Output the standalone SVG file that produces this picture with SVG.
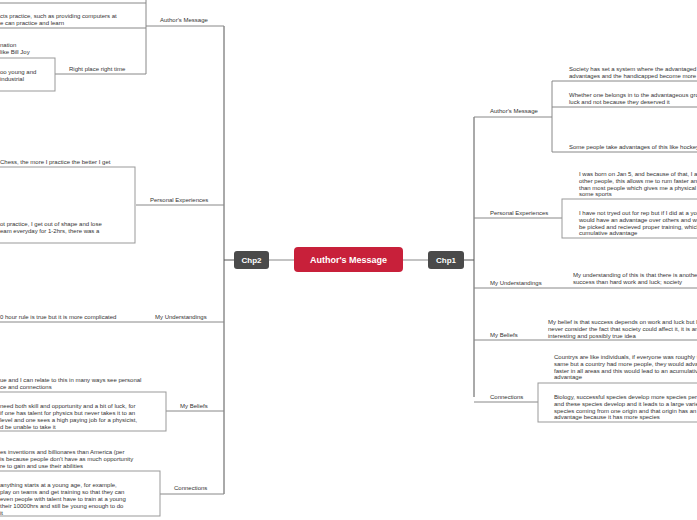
<svg xmlns="http://www.w3.org/2000/svg" width="697" height="520" viewBox="0 0 697 520">
<style>
text{font-family:"Liberation Sans",Arial,sans-serif;font-size:6px;fill:#333}
.l{stroke:#888;stroke-width:1;fill:none}
.d{stroke:#555;stroke-width:1;fill:none}
.b{fill:#fff;stroke:#999;stroke-width:1}
.c{font-size:8px;font-weight:bold;fill:#fff;text-anchor:middle}
</style>
<rect width="697" height="520" fill="#fff"/>
<g id="connectors">
<path class="d" d="M224 26V494M224 260H234M474 117V397M464 260H474"/>
<path class="l" d="M269 260H294M403 260H428"/>
<path class="l" d="M146 26H224M136 205H224M0 322H224M166 411H224M160 494H224"/>
<path class="l" d="M146 0V74M0 3H146M0 28H146M55 74H146"/>
<path class="l" d="M474 117H552M552 81V152M552 81H697M552 107H697M552 152H697"/>
<path class="l" d="M474 218H562M474 288H697M474 340H697M474 402H538"/>
</g>
<g id="root"><rect x="294" y="247" width="109" height="25" rx="4" fill="#c8203a"/><text class="c" x="348.5" y="263" style="font-size:9px">Author's Message</text></g>
<g id="chp2"><rect x="234" y="251" width="35" height="18" rx="3" fill="#4a4a4a"/><text class="c" x="251.5" y="263">Chp2</text></g>
<g id="chp1"><rect x="428" y="251" width="36" height="18" rx="3" fill="#4a4a4a"/><text class="c" x="446" y="263">Chp1</text></g>
<g id="l-author">
<text x="160" y="22">Author's Message</text>
<text x="0" y="18">cts practice, such as providing computers at</text>
<text x="0" y="25">e can practice and learn</text>
<text x="69" y="71">Right place right time</text>
<text x="0" y="47">nation</text><text x="0" y="54">like Bill Joy</text>
<rect class="b" x="-5" y="58" width="60" height="33"/>
<text x="0" y="74">oo young and</text><text x="0" y="81">industrial</text>
</g>
<g id="l-personal">
<text x="150" y="202">Personal Experiences</text>
<text x="0" y="164">Chess, the more I practice the better I get</text>
<rect class="b" x="-5" y="167" width="140" height="76"/>
<text x="0" y="226">ot practice, I get out of shape and lose</text>
<text x="0" y="233">eam everyday for 1-2hrs, there was a</text>
</g>
<g id="l-under">
<text x="155" y="319">My Understandings</text>
<text x="0" y="319">0 hour rule is true but it is more complicated</text>
</g>
<g id="l-beliefs">
<text x="180" y="408">My Beliefs</text>
<text x="0" y="382">ue and I can relate to this in many ways see personal</text>
<text x="0" y="389">ce and connections</text>
<rect class="b" x="-5" y="392" width="171" height="39"/>
<text x="0" y="408">need both skill and opportunity and a bit of luck, for</text>
<text x="0" y="415">if one has talent for physics but never takes it to an</text>
<text x="0" y="422">level and one sees a high paying job for a physicist,</text>
<text x="0" y="429">d be unable to take it</text>
</g>
<g id="l-conn">
<text x="174" y="490">Connections</text>
<text x="0" y="454">es inventions and billionares than America (per</text>
<text x="0" y="461">is because people don't have as much opportunity</text>
<text x="0" y="468">re to gain and use their abilities</text>
<rect class="b" x="-5" y="471" width="165" height="45"/>
<text x="0" y="487">anything starts at a young age, for example,</text>
<text x="0" y="494">play on teams and get training so that they can</text>
<text x="0" y="501">even people with talent have to train at a young</text>
<text x="0" y="508">their 10000hrs and still be young enough to do</text>
<text x="0" y="515">it</text>
</g>
<g id="r-author">
<text x="490" y="113">Author's Message</text>
<text x="569" y="71">Society has set a system where the advantaged get more</text>
<text x="569" y="78">advantages and the handicapped become more handicapped</text>
<text x="569" y="97">Whether one belongs in to the advantageous group is just</text>
<text x="569" y="104">luck and not because they deserved it</text>
<text x="569" y="149">Some people take advantages of this like hockey players</text>
</g>
<g id="r-personal">
<text x="490" y="215">Personal Experiences</text>
<text x="579" y="176">I was born on Jan 5, and because of that, I am older than</text>
<text x="579" y="183">other people, this allows me to rum faster and be stronger</text>
<text x="579" y="190">than most people which gives me a physical advantage in</text>
<text x="579" y="196">some sports</text>
<rect class="b" x="562" y="199" width="140" height="39"/>
<text x="579" y="215">I have not tryed out for rep but if I did at a young age I</text>
<text x="579" y="222">would have an advantage over others and would be likely to</text>
<text x="579" y="229">be picked and recieved proper training, which is a</text>
<text x="579" y="235">cumulative advantage</text>
</g>
<g id="r-under">
<text x="490" y="285">My Understandings</text>
<text x="573" y="277">My understanding of this is that there is another factor to</text>
<text x="573" y="284">success than hard work and luck; society</text>
</g>
<g id="r-beliefs">
<text x="490" y="337">My Beliefs</text>
<text x="548" y="324">My belief is that success depends on work and luck but I</text>
<text x="548" y="331">never consider the fact that society could affect it, it is an</text>
<text x="548" y="338">interesting and possibly true idea</text>
</g>
<g id="r-conn">
<text x="490" y="399">Connections</text>
<text x="554" y="359">Countrys are like individuals, if everyone was roughly the</text>
<text x="554" y="366">same but a country had more people, they would advance</text>
<text x="554" y="373">faster in all areas and this would lead to an acumulative</text>
<text x="554" y="379">advantage</text>
<rect class="b" x="538" y="383" width="164" height="39"/>
<text x="554" y="399">Biology, successful species develop more species per time</text>
<text x="554" y="406">and these species develop and it leads to a large variety of</text>
<text x="554" y="413">species coming from one origin and that origin has an</text>
<text x="554" y="419">advantage because it has more species</text>
</g>
</svg>
